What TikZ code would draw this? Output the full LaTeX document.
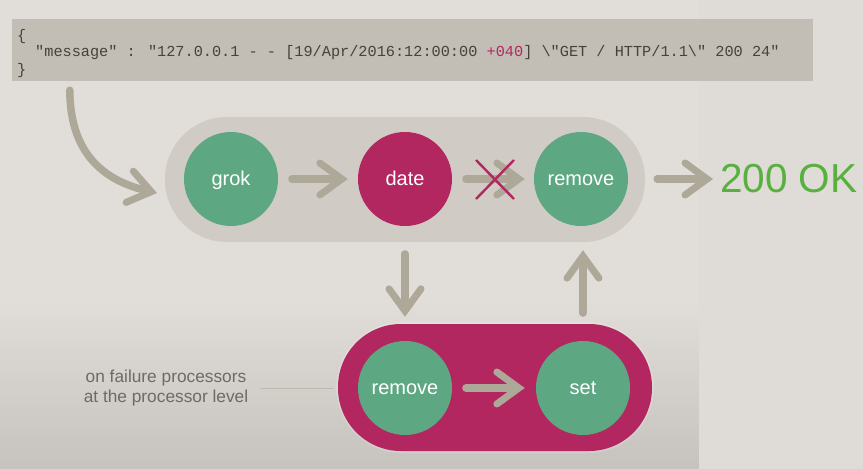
\documentclass[tikz,border=0pt]{standalone}
\usepackage{fontspec}
\setmainfont{Liberation Sans}
\newfontfamily\codefont{Liberation Mono}
\usetikzlibrary{arrows.meta,positioning,calc}
\definecolor{bgtop}{HTML}{E1DDD9}
\definecolor{bgbot}{HTML}{C6C2BD}
\definecolor{bgflat}{HTML}{DFDBD7}
\definecolor{codebg}{HTML}{C2BEB6}
\definecolor{codefg}{HTML}{45423E}
\definecolor{pillgrey}{HTML}{D0CBC5}
\definecolor{crim}{HTML}{B2275F}
\definecolor{leaf}{HTML}{5DA883}
\definecolor{tan}{HTML}{AEA898}
\definecolor{okgreen}{HTML}{58B13E}
\definecolor{notegrey}{HTML}{6E6B67}
\tikzset{
  x=1pt,y=-1pt,
  proc/.style={circle,fill=leaf,minimum size=94pt,inner sep=0pt,text=white,font=\fontsize{20}{22}\selectfont,text height=12pt,text depth=0pt},
  procred/.style={proc,fill=crim},
  flow/.style={draw=tan,line width=7.5pt,line cap=round,
    -{Straight Barb[line cap=round,line join=miter,length=22pt,width=32pt,line width=7pt]}},
  codeline/.style={anchor=base west,inner sep=0pt,text=codefg,font=\codefont\fontsize{15.25}{18}\selectfont},
}
\begin{document}
\begin{tikzpicture}
\useasboundingbox (0,0) rectangle (863,469);
% background
\fill[bgtop] (0,0) rectangle (863,469);
\shade[top color=bgtop,bottom color=bgbot] (0,300) rectangle (699,469);
\fill[bgflat] (699,0) rectangle (863,469);
% code box
\node[fill=codebg,minimum width=801pt,minimum height=62pt,inner sep=0pt] (code) at (412.5,50) {};
\node[codeline] (l1) at (17,40) {\{};
\node[codeline] (l2) at (35,56) {"message" : "127.0.0.1 - - [19/Apr/2016:12:00:00 \textcolor{crim}{+040}] \textbackslash"GET / HTTP/1.1\textbackslash" 200 24"};
\node[codeline] (l3) at (17,74) {\}};
% pills
\draw[white,opacity=.18,line width=4pt,rounded corners=64pt] (338,324) rectangle (652,451);
\fill[pillgrey,rounded corners=62pt] (165,117) rectangle (645,242);
\fill[crim,rounded corners=63pt] (338,324) rectangle (652,451);
% processors
\node[proc] (grok) at (231,179) {grok};
\node[procred] (date) at (405,179) {date};
\node[proc] (rm) at (581,179) {remove};
\node[proc] (frm) at (405,388) {remove};
\node[proc] (fset) at (583,388) {set};
\node[anchor=west,inner sep=0pt,text=okgreen,font=\fontsize{40.5}{46}\selectfont] (ok) at (720,179) {200 OK};
\node[align=center,inner sep=0pt,text=notegrey,font=\fontsize{17.3}{20}\selectfont] (note) at (166,388.5) {on failure processors\\at the processor level};
% connectors
\coordinate (notei) at (333,388);
\coordinate (entry) at (157,193);
\coordinate (noteo) at (260,388);
\draw[draw=tan!70!bgtop,line width=1pt] (noteo) -- (notei);
\draw[flow] ($(code.south west)+(58,9)$) .. controls (70,150) and (100,180) .. (entry);
\draw[flow,shorten <=13.75pt,shorten >=10pt] (grok) -- (date);
\draw[flow,shorten <=13.75pt,shorten >=9pt] (date) -- (rm);
\draw[flow,shorten <=29pt,shorten >=7pt] (rm) -- (ok);
\draw[flow,shorten <=27.75pt,shorten >=24pt] (date) -- (frm);
\draw[flow,shorten <=27.75pt,shorten >=24pt] (fset.north) -- (fset.north |- rm.south);
\draw[flow,shorten <=13.75pt,shorten >=11pt] (frm) -- (fset);
% cross
\coordinate (xa) at (476,160);
\coordinate (xb) at (514,199);
\coordinate (xc) at (514,160);
\coordinate (xd) at (476,199);
\draw[crim,line width=2.4pt] (xa) -- (xb);
\draw[crim,line width=2.4pt] (xc) -- (xd);
\end{tikzpicture}
\end{document}
